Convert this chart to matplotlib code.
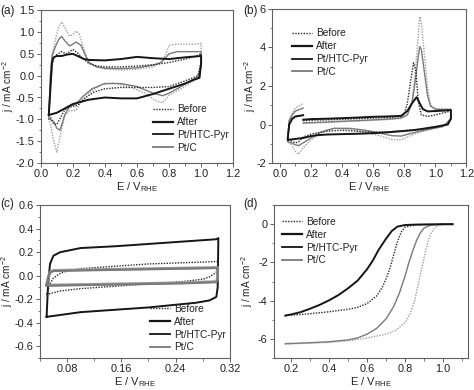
import matplotlib
matplotlib.use("Agg")
import matplotlib.pyplot as plt
from matplotlib.ticker import MultipleLocator
from matplotlib.lines import Line2D

plt.rcParams['font.family'] = ['Liberation Sans', 'DejaVu Sans']
plt.rcParams['mathtext.fontset'] = 'custom'
plt.rcParams['mathtext.rm'] = 'Liberation Sans'
plt.rcParams['mathtext.it'] = 'Liberation Sans'

# ---------------- Panel (a): CV in N2 ----------------
a_pyr_before_E = [0.05, 0.06, 0.07, 0.08, 0.10, 0.13, 0.16, 0.20, 0.23, 0.26, 0.30, 0.35, 0.40, 0.50, 0.60, 0.70, 0.80, 0.90, 0.97, 1.00,
                  1.00, 0.98, 0.95, 0.90, 0.80, 0.70, 0.60, 0.50, 0.40, 0.33, 0.28, 0.23, 0.18, 0.15, 0.12, 0.10, 0.08, 0.06, 0.05]
a_pyr_before_j = [-0.9, -0.3, 0.2, 0.4, 0.48, 0.55, 0.5, 0.6, 0.52, 0.4, 0.28, 0.22, 0.2, 0.2, 0.22, 0.25, 0.3, 0.38, 0.45, 0.5,
                  0.3, 0.0, -0.05, -0.12, -0.25, -0.27, -0.27, -0.27, -0.3, -0.38, -0.5, -0.68, -0.72, -0.78, -0.98, -1.12, -1.1, -0.95, -0.9]

a_pyr_after_E = [0.05, 0.06, 0.07, 0.08, 0.10, 0.13, 0.16, 0.20, 0.23, 0.27, 0.30, 0.40, 0.50, 0.60, 0.70, 0.80, 0.90, 1.00,
                 1.00, 0.99, 0.95, 0.90, 0.80, 0.70, 0.60, 0.50, 0.40, 0.30, 0.25, 0.20, 0.15, 0.10, 0.07, 0.05]
a_pyr_after_j = [-0.9, -0.3, 0.3, 0.42, 0.45, 0.45, 0.48, 0.5, 0.45, 0.38, 0.36, 0.35, 0.38, 0.43, 0.4, 0.38, 0.42, 0.45,
                 0.3, -0.05, -0.1, -0.18, -0.3, -0.42, -0.52, -0.52, -0.5, -0.55, -0.6, -0.65, -0.75, -0.85, -0.88, -0.9]

a_ptc_before_E = [0.05, 0.06, 0.07, 0.09, 0.11, 0.13, 0.15, 0.18, 0.20, 0.22, 0.24, 0.27, 0.30, 0.35, 0.40, 0.50, 0.60, 0.70, 0.75, 0.78, 0.80, 0.85, 0.95, 1.00,
                  1.00, 0.98, 0.92, 0.85, 0.80, 0.76, 0.72, 0.65, 0.55, 0.45, 0.38, 0.30, 0.25, 0.22, 0.18, 0.15, 0.12, 0.10, 0.08, 0.06, 0.05]
a_ptc_before_j = [-1.0, 0.0, 0.45, 0.8, 1.1, 1.23, 1.1, 0.9, 0.95, 1.02, 0.95, 0.6, 0.3, 0.2, 0.15, 0.13, 0.15, 0.2, 0.3, 0.5, 0.7, 0.72, 0.72, 0.74,
                  0.2, -0.05, -0.2, -0.35, -0.45, -0.62, -0.58, -0.4, -0.25, -0.17, -0.2, -0.4, -0.6, -0.8, -0.8, -0.9, -1.4, -1.75, -1.5, -1.1, -1.0]

a_ptc_after_E = [0.05, 0.06, 0.07, 0.09, 0.11, 0.13, 0.15, 0.18, 0.20, 0.22, 0.25, 0.28, 0.30, 0.35, 0.40, 0.50, 0.60, 0.70, 0.75, 0.80, 0.85, 1.00,
                 1.00, 0.98, 0.92, 0.85, 0.80, 0.76, 0.70, 0.60, 0.50, 0.40, 0.32, 0.27, 0.22, 0.18, 0.15, 0.12, 0.10, 0.08, 0.06, 0.05]
a_ptc_after_j = [-1.0, 0.0, 0.45, 0.65, 0.82, 0.9, 0.8, 0.68, 0.72, 0.77, 0.7, 0.45, 0.3, 0.2, 0.17, 0.16, 0.18, 0.24, 0.3, 0.5, 0.55, 0.55,
                 0.2, -0.03, -0.15, -0.3, -0.4, -0.46, -0.4, -0.25, -0.18, -0.18, -0.3, -0.45, -0.65, -0.7, -0.9, -1.25, -1.2, -1.05, -1.0, -1.0]

# ---------------- Panel (b): CO stripping ----------------
b_pyr_before_E = [0.15, 0.20, 0.30, 0.40, 0.50, 0.60, 0.70, 0.78, 0.80, 0.82, 0.84, 0.86, 0.875, 0.89, 0.91, 0.95, 1.00, 1.05, 1.10,
                  1.10, 1.08, 1.00, 0.90, 0.80, 0.70, 0.60, 0.50, 0.40, 0.30, 0.20, 0.15, 0.12, 0.10, 0.07, 0.05,
                  0.05, 0.06, 0.08, 0.10, 0.15]
b_pyr_before_j = [0.2, 0.22, 0.24, 0.27, 0.3, 0.33, 0.36, 0.42, 0.55, 1.1, 2.2, 3.2, 2.8, 1.2, 0.5, 0.42, 0.5, 0.6, 0.7,
                  0.3, 0.0, -0.15, -0.25, -0.32, -0.38, -0.4, -0.35, -0.3, -0.35, -0.5, -0.65, -0.9, -0.95, -0.85, -0.8,
                  -0.8, 0.0, 0.3, 0.4, 0.5]

b_pyr_after_E = [0.15, 0.20, 0.30, 0.40, 0.50, 0.60, 0.70, 0.78, 0.82, 0.85, 0.88, 0.90, 0.92, 0.95, 1.00, 1.05, 1.10,
                 1.10, 1.08, 1.00, 0.90, 0.85, 0.70, 0.60, 0.50, 0.40, 0.30, 0.25, 0.20, 0.15, 0.10, 0.07, 0.05,
                 0.05, 0.06, 0.08, 0.10, 0.15]
b_pyr_after_j = [0.25, 0.28, 0.3, 0.33, 0.36, 0.4, 0.42, 0.45, 0.7, 1.1, 1.42, 1.1, 0.8, 0.68, 0.7, 0.72, 0.75,
                 0.3, 0.0, -0.12, -0.25, -0.3, -0.4, -0.45, -0.48, -0.5, -0.52, -0.55, -0.6, -0.7, -0.75, -0.78, -0.8,
                 -0.8, 0.0, 0.3, 0.42, 0.48]

b_ptc_before_E = [0.15, 0.20, 0.30, 0.40, 0.50, 0.60, 0.70, 0.78, 0.82, 0.85, 0.87, 0.89, 0.90, 0.91, 0.93, 0.95, 0.97, 1.00, 1.05, 1.10,
                  1.10, 1.05, 1.00, 0.90, 0.85, 0.78, 0.72, 0.65, 0.55, 0.45, 0.35, 0.30, 0.25, 0.20, 0.15, 0.12, 0.10, 0.07, 0.05,
                  0.05, 0.06, 0.08, 0.10, 0.15]
b_ptc_before_j = [0.05, 0.07, 0.1, 0.14, 0.18, 0.22, 0.26, 0.32, 0.5, 1.2, 2.6, 4.6, 5.6, 5.3, 3.6, 1.9, 1.0, 0.82, 0.8, 0.8,
                  0.3, -0.1, -0.2, -0.4, -0.55, -0.8, -0.78, -0.6, -0.4, -0.25, -0.2, -0.3, -0.5, -0.8, -1.2, -1.55, -1.4, -1.0, -0.9,
                  -0.9, 0.2, 0.6, 0.85, 1.1]

b_ptc_after_E = [0.15, 0.20, 0.30, 0.40, 0.50, 0.60, 0.70, 0.78, 0.82, 0.85, 0.87, 0.89, 0.90, 0.91, 0.93, 0.95, 0.97, 1.00, 1.05, 1.10,
                 1.10, 1.05, 1.00, 0.90, 0.85, 0.78, 0.72, 0.65, 0.55, 0.45, 0.35, 0.30, 0.25, 0.20, 0.15, 0.12, 0.10, 0.07, 0.05,
                 0.05, 0.06, 0.08, 0.10, 0.15]
b_ptc_after_j = [0.08, 0.1, 0.13, 0.17, 0.2, 0.24, 0.28, 0.34, 0.5, 1.1, 2.2, 3.5, 4.05, 3.9, 2.7, 1.5, 0.95, 0.8, 0.78, 0.78,
                 0.3, -0.1, -0.18, -0.35, -0.45, -0.6, -0.58, -0.45, -0.3, -0.2, -0.2, -0.3, -0.45, -0.7, -0.95, -1.1, -1.05, -0.95, -0.9,
                 -0.9, 0.2, 0.5, 0.7, 0.85]

# ---------------- Panel (c): double-layer CV ----------------
c_pyr_after_E = [0.05, 0.052, 0.055, 0.06, 0.07, 0.10, 0.15, 0.20, 0.25, 0.30, 0.303,
                 0.303, 0.302, 0.30, 0.29, 0.27, 0.20, 0.15, 0.10, 0.05]
c_pyr_after_j = [-0.35, -0.1, 0.1, 0.17, 0.2, 0.235, 0.25, 0.27, 0.29, 0.31, 0.32,
                 0.32, -0.1, -0.18, -0.21, -0.23, -0.27, -0.29, -0.31, -0.35]

c_pyr_before_E = [0.05, 0.055, 0.06, 0.07, 0.08, 0.10, 0.15, 0.20, 0.25, 0.30, 0.302,
                  0.302, 0.30, 0.29, 0.28, 0.25, 0.20, 0.15, 0.10, 0.07, 0.05]
c_pyr_before_j = [-0.16, -0.07, -0.02, 0.02, 0.04, 0.06, 0.08, 0.1, 0.11, 0.12, 0.12,
                  0.08, 0.03, -0.01, -0.03, -0.05, -0.07, -0.09, -0.11, -0.13, -0.16]

c_ptc_before_E = [0.05, 0.053, 0.056, 0.06, 0.10, 0.15, 0.20, 0.25, 0.30, 0.302,
                  0.302, 0.30, 0.25, 0.20, 0.15, 0.10, 0.05]
c_ptc_before_j = [-0.08, 0.0, 0.035, 0.045, 0.05, 0.055, 0.06, 0.065, 0.07, 0.07,
                  -0.02, -0.05, -0.06, -0.065, -0.07, -0.075, -0.08]

c_ptc_after_E = [0.05, 0.053, 0.056, 0.06, 0.10, 0.15, 0.20, 0.25, 0.30, 0.302,
                 0.302, 0.30, 0.25, 0.20, 0.15, 0.10, 0.05]
c_ptc_after_j = [-0.08, 0.0, 0.03, 0.04, 0.045, 0.05, 0.055, 0.06, 0.065, 0.065,
                 -0.03, -0.055, -0.065, -0.07, -0.075, -0.08, -0.085]

# ---------------- Panel (d): ORR LSV ----------------
d_pyr_after_E = [0.17, 0.20, 0.25, 0.30, 0.35, 0.40, 0.45, 0.50, 0.55, 0.60, 0.63, 0.66, 0.70, 0.73, 0.76, 0.80, 0.85, 0.90, 1.00, 1.05]
d_pyr_after_j = [-4.78, -4.72, -4.6, -4.42, -4.22, -3.98, -3.7, -3.35, -2.95, -2.35, -1.9, -1.35, -0.75, -0.35, -0.12, -0.04, -0.02, -0.01, 0.0, 0.0]

d_pyr_before_E = [0.17, 0.25, 0.30, 0.40, 0.50, 0.55, 0.60, 0.65, 0.68, 0.70, 0.72, 0.74, 0.76, 0.78, 0.80, 0.85, 0.90, 1.00, 1.05]
d_pyr_before_j = [-4.78, -4.72, -4.68, -4.58, -4.45, -4.35, -4.15, -3.75, -3.3, -2.85, -2.3, -1.6, -0.9, -0.4, -0.15, -0.04, -0.02, 0.0, 0.0]

d_ptc_after_E = [0.17, 0.30, 0.40, 0.50, 0.55, 0.60, 0.65, 0.70, 0.74, 0.77, 0.80, 0.82, 0.84, 0.86, 0.88, 0.90, 0.93, 0.96, 1.00, 1.05]
d_ptc_after_j = [-6.25, -6.2, -6.15, -6.05, -5.95, -5.75, -5.45, -4.95, -4.3, -3.6, -2.7, -2.0, -1.4, -0.85, -0.45, -0.2, -0.06, -0.02, 0.0, 0.02]

d_ptc_before_E = [0.17, 0.30, 0.40, 0.50, 0.60, 0.70, 0.75, 0.80, 0.83, 0.85, 0.87, 0.89, 0.91, 0.93, 0.95, 0.97, 1.00, 1.05]
d_ptc_before_j = [-6.27, -6.22, -6.18, -6.1, -5.95, -5.75, -5.55, -5.15, -4.6, -4.0, -3.1, -2.2, -1.3, -0.6, -0.25, -0.08, -0.02, 0.02]

legend_labels = ["Before", "After", "Pt/HTC-Pyr", "Pt/C"]
panel_labels = ["(a)", "(b)", "(c)", "(d)"]

# styles
BLK = "#151515"
BLK_DOT = "#2a2a2a"
GRY = "#7a7a7a"
GRY_DOT = "#a0a0a0"
FRAME = "#606060"
TXT = "#222222"

st_pyr_before = dict(color=BLK_DOT, lw=1.0, ls=(0, (1, 1)))
st_pyr_after = dict(color=BLK, lw=1.4, ls='-')
st_ptc_before = dict(color=GRY_DOT, lw=1.0, ls=(0, (1, 1)))
st_ptc_after = dict(color=GRY, lw=1.0, ls='-')

fig = plt.figure(figsize=(4.74, 3.9), dpi=100)

axa = fig.add_axes([0.086, 0.582, 0.406, 0.392])
axb = fig.add_axes([0.574, 0.582, 0.410, 0.395])
axc = fig.add_axes([0.084, 0.082, 0.401, 0.392])
axd = fig.add_axes([0.578, 0.082, 0.409, 0.392])

axa.plot(a_ptc_before_E, a_ptc_before_j, **st_ptc_before)
axa.plot(a_ptc_after_E, a_ptc_after_j, **st_ptc_after)
axa.plot(a_pyr_before_E, a_pyr_before_j, **st_pyr_before)
axa.plot(a_pyr_after_E, a_pyr_after_j, **st_pyr_after)

axb.plot(b_ptc_before_E, b_ptc_before_j, **st_ptc_before)
axb.plot(b_ptc_after_E, b_ptc_after_j, **st_ptc_after)
axb.plot(b_pyr_before_E, b_pyr_before_j, **st_pyr_before)
axb.plot(b_pyr_after_E, b_pyr_after_j, **st_pyr_after)

axc.plot(c_pyr_after_E, c_pyr_after_j, **st_pyr_after)
axc.plot(c_pyr_before_E, c_pyr_before_j, **st_pyr_before)
axc.plot(c_ptc_before_E, c_ptc_before_j, color=GRY_DOT, lw=2.0, ls='-')
axc.plot(c_ptc_after_E, c_ptc_after_j, color=GRY, lw=1.6, ls='-')

axd.plot(d_ptc_before_E, d_ptc_before_j, **st_ptc_before)
axd.plot(d_ptc_after_E, d_ptc_after_j, **st_ptc_after)
axd.plot(d_pyr_before_E, d_pyr_before_j, **st_pyr_before)
axd.plot(d_pyr_after_E, d_pyr_after_j, **st_pyr_after)

axa.set_xlim(0, 1.2); axa.set_ylim(-2.0, 1.5)
axa.xaxis.set_major_locator(MultipleLocator(0.2)); axa.xaxis.set_minor_locator(MultipleLocator(0.1))
axa.yaxis.set_major_locator(MultipleLocator(0.5)); axa.yaxis.set_minor_locator(MultipleLocator(0.25))
axa.xaxis.set_major_formatter(lambda v, p: f"{v:.1f}")
axa.yaxis.set_major_formatter(lambda v, p: f"{v:.1f}")

axb.set_xlim(-0.05, 1.2); axb.set_ylim(-2, 6)
axb.xaxis.set_major_locator(MultipleLocator(0.2)); axb.xaxis.set_minor_locator(MultipleLocator(0.1))
axb.yaxis.set_major_locator(MultipleLocator(2)); axb.yaxis.set_minor_locator(MultipleLocator(1))
axb.xaxis.set_major_formatter(lambda v, p: f"{v:.1f}")
axb.yaxis.set_major_formatter(lambda v, p: f"{v:.0f}")

axc.set_xlim(0.04, 0.32); axc.set_ylim(-0.7, 0.6)
axc.xaxis.set_major_locator(MultipleLocator(0.08)); axc.xaxis.set_minor_locator(MultipleLocator(0.04))
axc.yaxis.set_major_locator(MultipleLocator(0.2)); axc.yaxis.set_minor_locator(MultipleLocator(0.1))
axc.xaxis.set_major_formatter(lambda v, p: f"{v:.2f}")
axc.yaxis.set_major_formatter(lambda v, p: f"{v:.1f}")

axd.set_xlim(0.11, 1.13); axd.set_ylim(-7, 1)
axd.xaxis.set_major_locator(MultipleLocator(0.2)); axd.xaxis.set_minor_locator(MultipleLocator(0.1))
axd.yaxis.set_major_locator(MultipleLocator(2)); axd.yaxis.set_minor_locator(MultipleLocator(1))
axd.xaxis.set_major_formatter(lambda v, p: f"{v:.1f}")
axd.yaxis.set_major_formatter(lambda v, p: f"{v:.0f}")

ylab_x = {axa: -0.130, axb: -0.072, axc: -0.128, axd: -0.098}
for ax in (axa, axb, axc, axd):
    for s in ax.spines.values():
        s.set_color(FRAME); s.set_linewidth(0.8)
    ax.tick_params(which='major', direction='out', length=3, width=0.7, color=FRAME,
                   labelsize=7.9, labelcolor=TXT, pad=1.5)
    ax.tick_params(which='minor', direction='out', length=1.8, width=0.6, color=FRAME)
    ax.set_xlabel("E / V$_{\\mathrm{RHE}}$", fontsize=8, color=TXT, labelpad=1)
    ax.set_ylabel("j / mA cm$^{-2}$", fontsize=7.2, color=TXT)
    ax.yaxis.set_label_coords(ylab_x[ax], 0.5)

handles = [Line2D([], [], color=BLK_DOT, lw=1.0, ls=(0, (1, 1))),
           Line2D([], [], color=BLK, lw=1.6),
           Line2D([], [], color=BLK, lw=1.3),
           Line2D([], [], color=GRY, lw=1.3)]

def add_leg(ax, loc, anchor):
    lg = ax.legend(handles, legend_labels, loc=loc, bbox_to_anchor=anchor, frameon=False,
                   fontsize=7.3, handlelength=2.0, handletextpad=0.4, labelspacing=0.28,
                   borderaxespad=0.0)
    for t in lg.get_texts():
        t.set_color(TXT)

add_leg(axa, 'lower right', (1.0, 0.04))
add_leg(axb, 'upper left', (0.08, 0.90))
add_leg(axc, 'lower right', (1.0, 0.01))
add_leg(axd, 'upper left', (0.02, 0.95))

fig.text(0.0, 0.988, panel_labels[0], fontsize=8.5, va='top', ha='left', color=TXT)
fig.text(0.513, 0.988, panel_labels[1], fontsize=8.5, va='top', ha='left', color=TXT)
fig.text(0.0, 0.492, panel_labels[2], fontsize=8.5, va='top', ha='left', color=TXT)
fig.text(0.513, 0.492, panel_labels[3], fontsize=8.5, va='top', ha='left', color=TXT)

fig.savefig("out.png", dpi=100)
